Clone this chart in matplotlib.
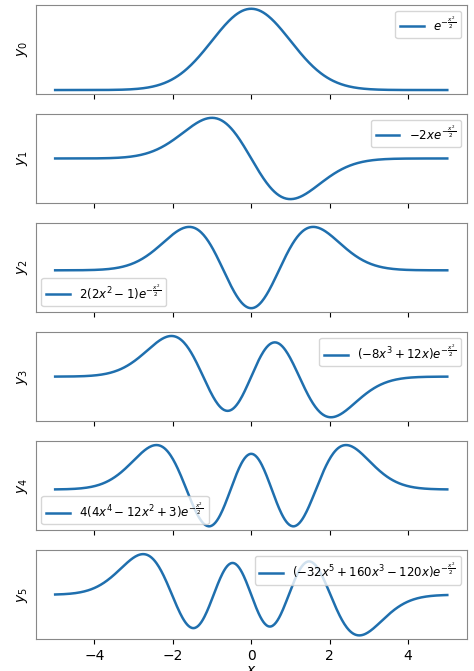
import numpy as np
import matplotlib
matplotlib.use('Agg')
import matplotlib.pyplot as plt

# polynomial coefficients (highest power first) of each derivative, times exp(-x^2/2)
coeffs = [
    [1],
    [-2, 0],
    [4, 0, -2],
    [-8, 0, 12, 0],
    [16, 0, -48, 0, 12],
    [-32, 0, 160, 0, -120, 0],
]
labels = [
    r'$e^{-\frac{x^2}{2}}$',
    r'$-2xe^{-\frac{x^2}{2}}$',
    r'$2(2x^2-1)e^{-\frac{x^2}{2}}$',
    r'$(-8x^3+12x)e^{-\frac{x^2}{2}}$',
    r'$4(4x^4-12x^2+3)e^{-\frac{x^2}{2}}$',
    r'$(-32x^5+160x^3-120x)e^{-\frac{x^2}{2}}$',
]
legend_locs = ['upper right', 'upper right', 'lower left',
               'upper right', 'lower left', 'upper right']

x = np.linspace(-5, 5, 500)

fig, axes = plt.subplots(6, 1, figsize=(4.74, 6.71), dpi=100, sharex=True)
for i, ax in enumerate(axes):
    y = np.polyval(coeffs[i], x) * np.exp(-x**2 / 2)
    ax.plot(x, y, color='#1f6fae', lw=1.8, label=labels[i])
    ax.set_yticks([])
    ax.set_ylabel('$y_%d$' % i)
    ax.legend(loc=legend_locs[i], fontsize=8.5)
    for s in ax.spines.values():
        s.set_color('#888888')
axes[-1].set_xlabel('$x$', labelpad=0)
axes[-1].set_xticks([-4, -2, 0, 2, 4])
fig.subplots_adjust(left=0.075, right=0.985, top=0.993, bottom=0.047, hspace=0.22)
plt.savefig('out.png')
